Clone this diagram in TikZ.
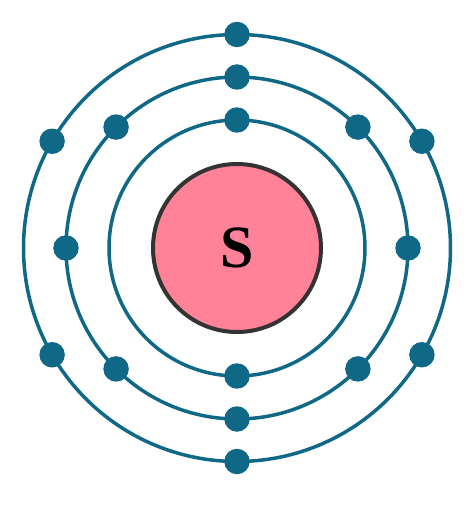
\documentclass[tikz,border=0pt]{standalone}
\usepackage{fontspec}
\setmainfont{Liberation Serif}
\usepackage{tikz}
\definecolor{shell}{RGB}{16,104,135}
\definecolor{nucl}{RGB}{255,130,152}
\definecolor{rim}{RGB}{51,51,51}
\tikzset{electron/.style={circle,fill=shell,minimum size=25.5pt,inner sep=0pt},
orbit/.style={draw=shell,line width=3.5pt}}

\begin{document}
\begin{tikzpicture}[x=1pt,y=1pt]
\useasboundingbox (-237,-272) rectangle (237,248);
\draw[orbit] (0,0) circle (128);
\draw[orbit] (0,0) circle (171);
\draw[orbit] (0,0) circle (213.5);
\node[circle,draw=rim,line width=4pt,fill=nucl,minimum size=168pt,inner sep=0pt] (core) at (0,0) {\fontsize{60}{60}\selectfont\bfseries S};
% first shell
\node[electron] (e11) at (90:128) {};
\node[electron] (e12) at (270:128) {};
% second shell
\node[electron] (e21) at (0:171) {};
\node[electron] (e22) at (45:171) {};
\node[electron] (e23) at (90:171) {};
\node[electron] (e24) at (135:171) {};
\node[electron] (e25) at (180:171) {};
\node[electron] (e26) at (225:171) {};
\node[electron] (e27) at (270:171) {};
\node[electron] (e28) at (315:171) {};
% third shell
\node[electron] (e31) at (30:213.5) {};
\node[electron] (e32) at (90:213.5) {};
\node[electron] (e33) at (150:213.5) {};
\node[electron] (e34) at (210:213.5) {};
\node[electron] (e35) at (270:213.5) {};
\node[electron] (e36) at (330:213.5) {};
\end{tikzpicture}
\end{document}
